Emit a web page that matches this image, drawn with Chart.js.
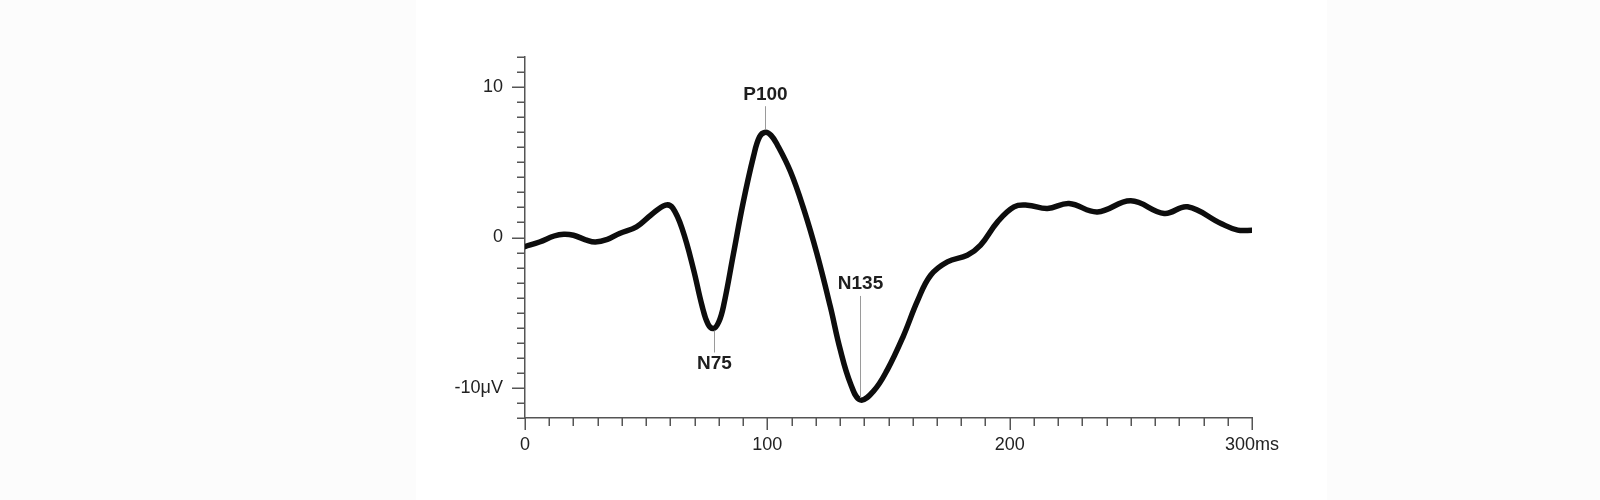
<!DOCTYPE html>
<html>
<head>
<meta charset="utf-8">
<title>VEP waveform</title>
<script src="https://cdn.jsdelivr.net/npm/chart.js@4/dist/chart.umd.min.js"></script>
<style>
  html, body { margin: 0; padding: 0; }
  body {
    width: 1600px; height: 500px; overflow: hidden;
    background: linear-gradient(to right, #fcfcfc 416px, #fff 416px, #fff 1327px, #fcfcfc 1327px);
  }
  canvas { display: block; }
</style>
</head>
<body>
<canvas id="vep" width="1600" height="500"></canvas>
<script>
// waveform (latency in ms, amplitude in µV)
const timeMs = [0, 6, 12, 16, 20, 25, 29, 34, 39, 46, 52, 58, 61, 65, 69.5, 73, 75.5, 77.8,
  80, 82, 86, 90, 94.3, 96.8, 99.2, 101.5, 104, 109.5, 115, 120.5, 126, 130, 134.3, 138.4, 143.9, 149.5,
  156, 162, 167.4, 174.3, 182.5, 188, 195, 201.8, 207.3, 215.6, 224.5, 236.2, 250, 263.8,
  273.4, 287.2, 294.1, 300.5];
const amplitude = [-0.6, -0.3, 0.1, 0.22, 0.15, -0.15, -0.3, -0.13, 0.27, 0.71, 1.5, 2.15, 1.95, 0.5, -2.1, -4.5, -5.75, -6.05,
  -5.6, -4.5, -1.1, 2.3, 5.4, 6.7, 7.0, 6.8, 6.2, 4.4, 1.9, -1.1, -4.6, -7.4, -9.7, -10.8, -10.2, -8.8,
  -6.6, -4.2, -2.51, -1.62, -1.18, -0.51, 1.04, 2.04, 2.15, 1.93, 2.26, 1.7, 2.44, 1.6,
  2.04, 0.93, 0.49, 0.49];

// labelled components
const peakNames = ['N75', 'P100', 'N135'];
const peakLatency = [77.8, 99.2, 138.4];
const peakAmplitude = [-6.05, 7.0, -10.8];

// axis labels
const xTickValues = [0, 100, 200, 300];
const xTickLabels = ['0', '100', '200', '300ms'];
const yTickValues = [10, 0, -10];
const yTickLabels = ['10', '0', '-10\u03BCV'];

const FONT = '"Liberation Sans", Arial, Helvetica, sans-serif';
const AXIS_COLOR = '#555';

// leader line + label placement for each peak (pixels): dir -1 = above, +1 = below
const peakStyle = {
  N75:  { dir: 1,  gap: 2, len: 22, textGap: 11 },
  P100: { dir: -1, gap: 3, len: 23, textGap: 11 },
  N135: { dir: -1, gap: 2, len: 102, textGap: 12 }
};

// minor / major tick marks on both axes
const axisTicks = {
  id: 'axisTicks',
  afterDraw(chart) {
    const { ctx, scales: { x, y }, chartArea } = chart;
    ctx.save();
    ctx.strokeStyle = AXIS_COLOR;
    ctx.lineWidth = 1.5;
    ctx.beginPath();
    for (let v = y.min; v <= y.max; v += 1) {
      const py = Math.round(y.getPixelForValue(v)) + 0.25;
      const len = v % 10 === 0 ? 13 : 8;
      ctx.moveTo(chartArea.left - len, py);
      ctx.lineTo(chartArea.left, py);
    }
    for (let t = x.min; t <= x.max; t += 10) {
      const px = Math.round(x.getPixelForValue(t)) + 0.25;
      const len = t % 100 === 0 ? 12 : 8;
      ctx.moveTo(px, chartArea.bottom);
      ctx.lineTo(px, chartArea.bottom + len);
    }
    ctx.stroke();
    ctx.restore();
  }
};

// peak names with thin leader lines
const peakLabels = {
  id: 'peakLabels',
  afterDatasetsDraw(chart) {
    const { ctx, scales: { x, y } } = chart;
    ctx.save();
    ctx.font = 'bold 19px ' + FONT;
    ctx.textAlign = 'center';
    ctx.textBaseline = 'middle';
    peakNames.forEach((name, i) => {
      const s = peakStyle[name];
      const px = Math.round(x.getPixelForValue(peakLatency[i])) + 0.5;
      const py = y.getPixelForValue(peakAmplitude[i]);
      const start = py + s.dir * s.gap;
      const end = start + s.dir * s.len;
      ctx.strokeStyle = '#9a9a9a';
      ctx.lineWidth = 1;
      ctx.beginPath();
      ctx.moveTo(px, start);
      ctx.lineTo(px, end);
      ctx.stroke();
      ctx.fillStyle = '#1e1e1e';
      ctx.fillText(name, px, end + s.dir * s.textGap);
    });
    ctx.restore();
  }
};

new Chart(document.getElementById('vep'), {
  type: 'line',
  data: {
    datasets: [{
      data: timeMs.map((t, i) => ({ x: t, y: amplitude[i] })),
      borderColor: '#0d0d0d',
      borderWidth: 5.5,
      borderCapStyle: 'round',
      borderJoinStyle: 'round',
      pointRadius: 0,
      tension: 0.4,
      fill: false
    }]
  },
  options: {
    responsive: false,
    animation: false,
    devicePixelRatio: 1,
    layout: { padding: { left: 425, right: 348, top: 57, bottom: 42 } },
    plugins: { legend: { display: false }, tooltip: { enabled: false } },
    scales: {
      x: {
        type: 'linear',
        min: 0,
        max: 300,
        afterBuildTicks: s => { s.ticks = xTickValues.map(v => ({ value: v })); },
        afterFit: s => { s.height = 40; },
        grid: { display: false, drawTicks: false },
        border: { display: true, color: AXIS_COLOR, width: 1.5 },
        ticks: {
          autoSkip: false,
          maxRotation: 0,
          padding: 16,
          color: '#222',
          font: { family: FONT, size: 18 },
          callback: v => xTickLabels[xTickValues.indexOf(v)]
        }
      },
      y: {
        type: 'linear',
        min: -12,
        max: 12,
        afterBuildTicks: s => { s.ticks = yTickValues.map(v => ({ value: v })); },
        afterFit: s => { s.width = 100; },
        grid: { display: false, drawTicks: false },
        border: { display: true, color: AXIS_COLOR, width: 1.5 },
        ticks: {
          autoSkip: false,
          padding: 22,
          color: '#222',
          font: { family: FONT, size: 18 },
          callback: v => yTickLabels[yTickValues.indexOf(v)]
        }
      }
    }
  },
  plugins: [axisTicks, peakLabels]
});
</script>
</body>
</html>
